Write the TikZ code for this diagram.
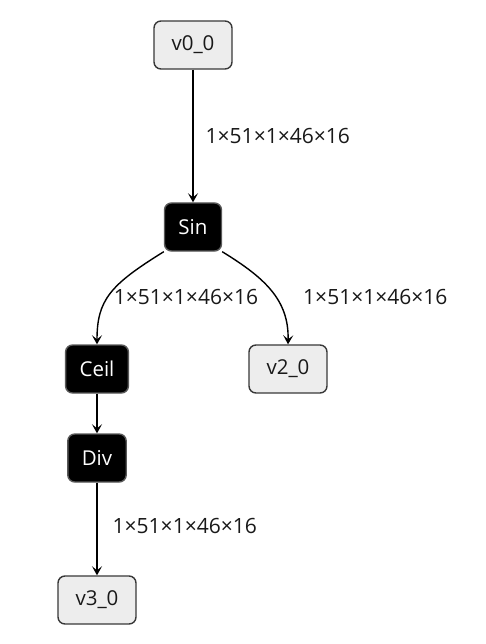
\documentclass[tikz,border=0pt]{standalone}
\usepackage{fontspec}
\setmainfont{Open Sans}
\usetikzlibrary{positioning,shapes,arrows.meta}

\begin{document}
\begin{tikzpicture}[x=1pt,y=-1pt,
  data/.style={draw=black!78,line width=1.4pt,fill=black!7,rounded corners=7pt,minimum height=48pt,minimum width=78pt,font=\fontsize{20.5}{24}\selectfont,text=black!90},
  op/.style={draw=black!65,line width=1.4pt,fill=black,rounded corners=7pt,minimum height=48pt,inner xsep=14pt,font=\fontsize{20.5}{24}\selectfont,text=white},
  flow/.style={line width=1.4pt,-{Stealth[length=9pt,width=10pt,inset=4pt]}},
  dims/.style={font=\fontsize{21}{24}\selectfont,text=black!90,anchor=west,inner sep=0pt}]
\useasboundingbox (0,0) rectangle (486,644);
\node[data] (v0) at (193,45) {v0\_0};
\node[op] (sin) at (193,227) {Sin};
\node[op] (ceil) at (97,369) {Ceil};
\node[data] (v2) at (288,369) {v2\_0};
\node[op] (div) at (97,458) {Div};
\node[data] (v3) at (97,600) {v3\_0};
\draw[flow] (v0) -- node[dims,xshift=12pt] (d1) {1×51×1×46×16} (sin);
\draw[flow] (sin.south west) .. controls (110,285) and (97,300) .. node[dims,xshift=3pt,yshift=-3pt] (d2) {1×51×1×46×16} (ceil.north);
\draw[flow] (sin.south east) .. controls (265,278) and (289,300) .. node[dims,xshift=31pt,yshift=-6pt] (d3) {1×51×1×46×16} (v2.north);
\draw[flow] (ceil) -- (div);
\draw[flow] (div) -- node[dims,xshift=15pt,yshift=3pt] (d4) {1×51×1×46×16} (v3);
\end{tikzpicture}
\end{document}
